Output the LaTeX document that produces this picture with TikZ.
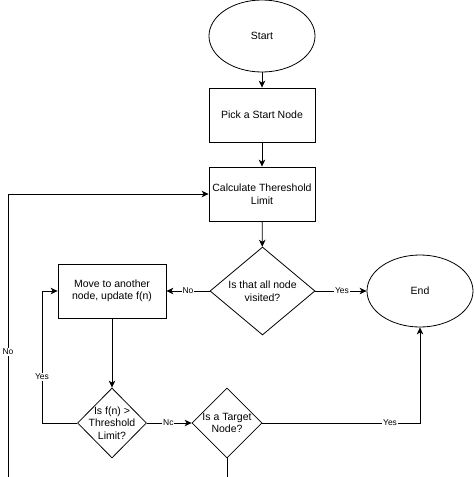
\documentclass[tikz,border=0pt]{standalone}
\usepackage{fontspec}
\setmainfont{Liberation Sans}
\usetikzlibrary{shapes.geometric,arrows.meta}
\begin{document}
\begin{tikzpicture}[x=1pt,y=-1pt,
  line width=0.8pt,
  every node/.style={font=\fontsize{10.5}{12.5}\selectfont},
  term/.style={draw,ellipse,minimum width=106pt,minimum height=72pt,inner sep=0pt},
  proc/.style={draw,rectangle,minimum width=106pt,minimum height=54pt,inner sep=0pt,align=center},
  decision/.style={draw,diamond,inner sep=0pt},
  dtext/.style={align=center,inner sep=0pt},
  lbl/.style={fill=white,inner sep=0.8pt,font=\fontsize{8.5}{10}\selectfont},
  flow/.style={-{Stealth[length=7pt,width=6.5pt,inset=2pt]}}
]
\useasboundingbox (0,0) rectangle (474,477);

% main column
\node[term] (start) at (262,36) {Start};
\node[proc] (pick) at (262,115) {Pick a Start Node};
\node[proc] (calc) at (262,194) {Calculate Thereshold\\Limit};
\node[decision,minimum width=105pt,minimum height=88pt] (visited) at (262.5,291) {};
\node[dtext] (visitedtxt) at (visited) {Is that all node\\visited?};
\node[term] (end) at (420,291) {End};

% search loop
\node[proc,minimum width=108pt] (move) at (112,291) {Move to another\\node, update f(n)};
\node[decision,minimum width=69pt,minimum height=70pt] (limit) at (112,423) {};
\node[dtext] (limittxt) at (limit) {Is f(n) \textgreater\\Threshold\\Limit?};
\node[decision,minimum width=70pt,minimum height=70pt] (target) at (227,423) {};
\node[dtext] (targettxt) at (target) {Is a Target\\Node?};

% routing points
\coordinate (yescorner) at (42,423);
\coordinate (yestop) at (42,291);
\coordinate (goalcorner) at (420,423);
\coordinate (nodown) at (227,492);
\coordinate (nocorner) at (8,492);
\coordinate (notop) at (8,194);

% connectors
\draw[flow] (start) -- (pick);
\draw[flow] (pick) -- (calc);
\draw[flow] (calc) -- (visited);
\draw[flow] (visited.west) -- node[lbl,pos=0.5] {No} (move.east);
\draw[flow] (visited.east) -- node[lbl,pos=0.52] {Yes} (end.west);
\draw[flow] (move) -- (limit);
\draw[flow] (limit.west) -- (yescorner) -- node[lbl,pos=0.35] {Yes} (yestop) -- (move.west);
\draw[flow] (limit.east) -- node[lbl,pos=0.48] {Nc} (target.west);
\draw[flow] (target.east) -- node[lbl,pos=0.81] {Yes} (goalcorner) -- (end.south);
\draw[flow] (target.south) -- (nodown) -- (nocorner) -- node[lbl,pos=0.47] {No} (notop) -- (calc.west);
\end{tikzpicture}
\end{document}
